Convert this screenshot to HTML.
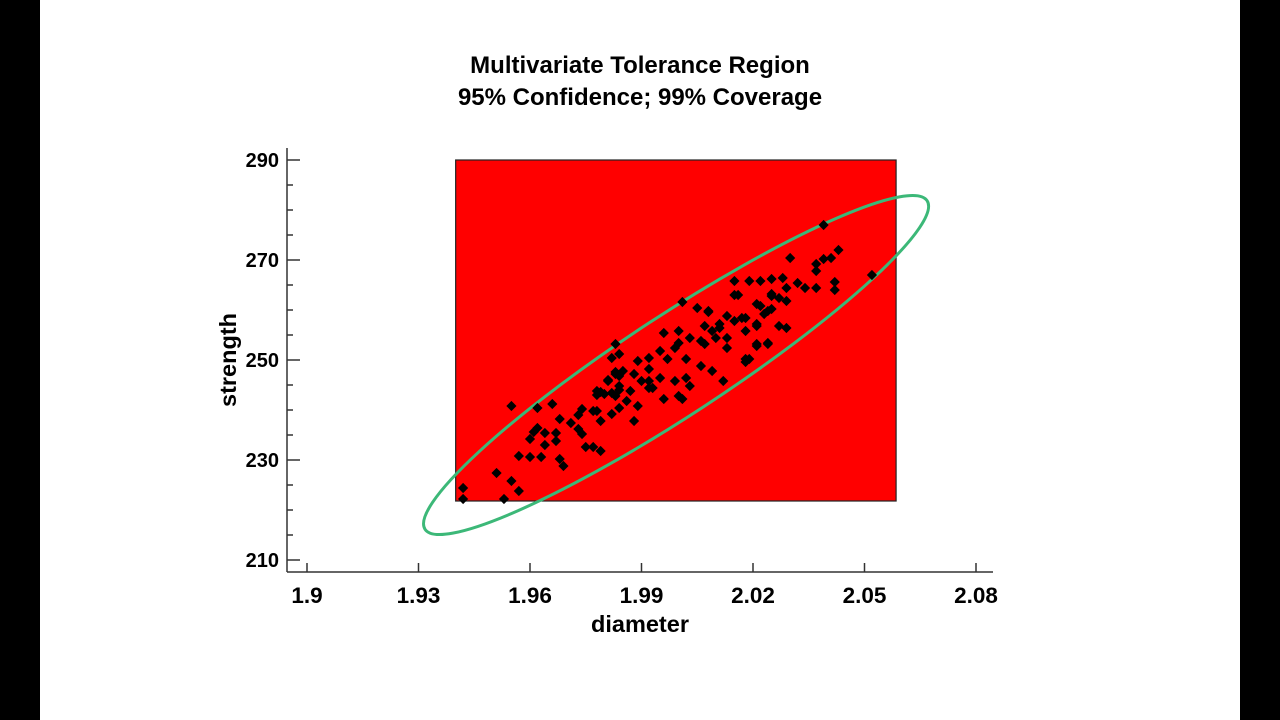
<!DOCTYPE html>
<html><head><meta charset="utf-8"><style>
html,body{margin:0;padding:0;background:#fff;}
svg{display:block;font-family:"Liberation Sans",Arial,sans-serif;}
</style></head><body>
<svg id="chart" width="1280" height="720" viewBox="0 0 1280 720">
<rect x="0" y="0" width="40" height="720" fill="#000"/>
<rect x="1240" y="0" width="40" height="720" fill="#000"/>
<text x="640" y="73" text-anchor="middle" font-size="24" font-weight="bold">Multivariate Tolerance Region</text>
<text x="640" y="105" text-anchor="middle" font-size="24" font-weight="bold">95% Confidence; 99% Coverage</text>
<text x="640" y="632" text-anchor="middle" font-size="23.5" font-weight="bold">diameter</text>
<text x="0" y="0" transform="translate(236,360) rotate(-90)" text-anchor="middle" font-size="23.5" font-weight="bold">strength</text>
<g id="plot"></g>
</svg>
<script>
const xTicks=[1.9,1.93,1.96,1.99,2.02,2.05,2.08];
const xTickLabels=["1.9","1.93","1.96","1.99","2.02","2.05","2.08"];
const yTicks=[210,230,250,270,290];
const yTickLabels=["210","230","250","270","290"];
const yMinorTicks=[215,220,225,235,240,245,255,260,265,275,280,285];
const regionX=[1.940,2.0585];
const regionY=[221.8,290];
const ellipseCenter=[1.9993,249.0];
const ellipseAxes=[300,50];
const ellipseAngle=-33.2;
const diamX=[1.942,1.942,1.951,1.953,1.955,1.957,1.962,1.966,1.968,1.967,1.964,1.964,1.960,1.963,1.968,1.969,1.967,1.971,1.973,1.974,1.973,1.975,1.977,1.979,1.978,1.978,1.979,1.981,1.982,1.983,1.984,1.984,1.983,1.982,1.983,1.955,1.957,1.960,1.961,1.962,
2.001,2.005,2.008,2.015,2.013,2.007,2.011,2.015,2.018,2.021,2.024,2.025,2.021,2.024,2.021,2.018,2.013,2.010,2.006,2.003,2.000,1.996,2.000,1.999,1.995,1.992,1.997,2.002,2.006,2.009,2.012,2.002,2.003,1.999,1.995,1.993,1.996,2.000,2.001,1.992,1.989,1.988,1.990,1.985,1.984,1.983,1.981,1.984,1.987,1.986,1.989,1.984,1.982,1.979,1.977,1.974,1.980,1.978,1.988,1.992,1.992,
2.039,2.043,2.041,2.039,2.037,2.037,2.030,2.052,2.042,2.042,2.037,2.034,2.032,2.029,2.028,2.025,2.022,2.019,2.015,2.016,2.025,2.027,2.029,2.022,2.025,2.023,2.017,2.018,2.021,2.021,2.024,2.027,2.029,2.019,2.018,2.011,2.008,2.009,2.013,2.007];
const strengthY=[224.4,222.2,227.4,222.2,225.8,223.8,240.4,241.2,238.2,233.8,233.0,235.4,230.6,230.6,230.2,228.8,235.4,237.4,239.0,235.2,236.2,232.6,232.6,231.8,239.8,243.0,243.6,246.0,243.4,242.8,244.0,246.8,247.6,250.4,253.2,240.8,230.8,234.2,235.6,236.4,
261.6,260.4,259.6,263.0,258.8,256.8,256.4,257.8,258.4,261.2,259.8,262.8,257.2,253.4,252.8,250.2,252.4,254.4,253.8,254.4,255.8,255.4,253.4,252.4,251.8,250.4,250.2,250.2,248.8,247.8,245.8,246.4,244.8,245.8,246.4,244.4,242.2,242.8,242.2,248.2,249.8,247.2,245.8,247.8,251.2,247.2,245.8,244.8,243.8,241.8,240.8,240.4,239.2,237.8,239.8,240.2,243.2,243.8,237.8,245.8,244.4,
277.0,272.0,270.4,270.2,269.2,267.8,270.4,267.0,265.6,264.0,264.4,264.4,265.4,264.4,266.4,266.2,265.8,265.8,265.8,263.0,263.2,262.4,261.8,260.8,260.2,259.2,258.4,255.8,256.8,253.2,253.2,256.8,256.4,250.2,249.6,257.2,259.8,255.8,254.4,253.2];

const NS="http://www.w3.org/2000/svg";
const g=document.getElementById('plot');
const X0=307,X1=976,Y0=560,Y1=160;
function sx(v){return X0+(v-1.9)/(2.08-1.9)*(X1-X0);}
function sy(v){return Y0-(v-210)/(290-210)*(Y0-Y1);}
function mk(tag,attrs,parent){const e=document.createElementNS(NS,tag);for(const k in attrs)e.setAttribute(k,attrs[k]);(parent||g).appendChild(e);return e;}

const reg=mk('rect',{x:sx(regionX[0]),y:sy(regionY[1]),width:sx(regionX[1])-sx(regionX[0]),height:sy(regionY[0])-sy(regionY[1]),fill:'#ff0000',stroke:'#222','stroke-width':1.2});



const ecx=sx(ellipseCenter[0]),ecy=sy(ellipseCenter[1]);
const el=mk('ellipse',{cx:ecx,cy:ecy,rx:ellipseAxes[0],ry:ellipseAxes[1],fill:'none',stroke:'#3cb878','stroke-width':3,transform:`rotate(${ellipseAngle} ${ecx} ${ecy})`});



for(let i=0;i<diamX.length;i++){
  const cx=sx(diamX[i]),cy=sy(strengthY[i]);
  const p=mk('rect',{x:cx-3.6,y:cy-3.6,width:7.2,height:7.2,fill:'#000',transform:`rotate(45 ${cx} ${cy})`});
  
  
}

const ya=mk('line',{x1:287,y1:148,x2:287,y2:572,stroke:'#333','stroke-width':1.5});


const xa=mk('line',{x1:287,y1:572,x2:993,y2:572,stroke:'#333','stroke-width':1.5});



yTicks.forEach((v,i)=>{
  const y=sy(v);
  const t=mk('line',{x1:287,y1:y,x2:300,y2:y,stroke:'#333','stroke-width':1.5});
  
  
  const l=mk('text',{x:279,y:y+7,'text-anchor':'end','font-size':20,'font-weight':'bold'});
  l.textContent=yTickLabels[i];
  
  
});
yMinorTicks.forEach(v=>{
  const y=sy(v);
  const t=mk('line',{x1:287,y1:y,x2:293,y2:y,stroke:'#333','stroke-width':1.5});
  
  
});
xTicks.forEach((v,i)=>{
  const x=sx(v);
  const t=mk('line',{x1:x,y1:572,x2:x,y2:563,stroke:'#333','stroke-width':1.5});
  
  
  const l=mk('text',{x:x,y:603,'text-anchor':'middle','font-size':22.5,'font-weight':'bold'});
  l.textContent=xTickLabels[i];
  
  
});
</script>
</body></html>
